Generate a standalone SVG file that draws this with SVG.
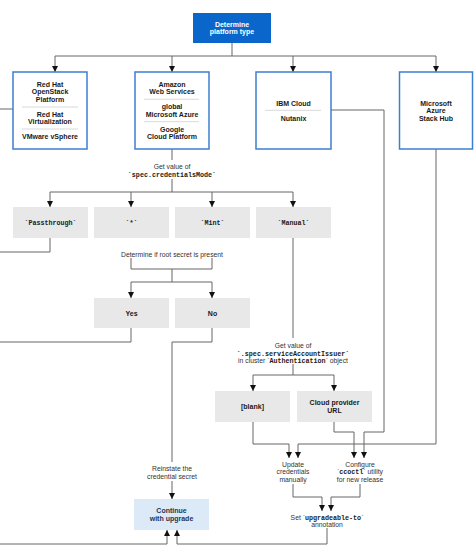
<svg xmlns="http://www.w3.org/2000/svg" width="474" height="556" viewBox="0 0 474 556">
<style>
.bg{fill:#ffffff}
.plat{fill:#ffffff;stroke:#3d7fd0;stroke-width:1.5}
.div{stroke:#cfcfcf;stroke-width:0.8}
.gray{fill:#e8e8e8}
.cont{fill:#dce9f7}
.top{fill:#0b66cc}
.b{font-family:"Liberation Sans","DejaVu Sans",sans-serif;font-weight:bold;font-size:7px;fill:#1a1a1a;text-anchor:middle}
.w{fill:#ffffff}
.n{fill:#1f3554}
.r{font-family:"Liberation Sans","DejaVu Sans",sans-serif;font-size:6.8px;fill:#333333;text-anchor:middle}
.m{font-family:"Liberation Mono","DejaVu Sans Mono",monospace;font-weight:bold;font-size:6.7px;fill:#1a1a1a}
.c{fill:none;stroke:#666666;stroke-width:1}
</style>
<defs>
<marker id="ah" viewBox="0 0 6 6" refX="6" refY="3" markerWidth="6" markerHeight="6" markerUnits="userSpaceOnUse" orient="auto">
<path d="M0,0 L6,3 L0,6 z" fill="#111111"/>
</marker>
</defs>
<rect class="bg" x="0" y="0" width="474" height="556"/>

<g id="connectors">
<path class="c" d="M232,43 V56 M55,56 H436"/>
<path class="c" d="M55,56 V72" marker-end="url(#ah)"/>
<path class="c" d="M172,56 V72" marker-end="url(#ah)"/>
<path class="c" d="M293,56 V72" marker-end="url(#ah)"/>
<path class="c" d="M436,56 V72" marker-end="url(#ah)"/>
<path class="c" d="M0,109 H13"/>
<path class="c" d="M172,149 V160 M172,179 V192 M50,192 H293"/>
<path class="c" d="M50,192 V207" marker-end="url(#ah)"/>
<path class="c" d="M131,192 V207" marker-end="url(#ah)"/>
<path class="c" d="M212,192 V207" marker-end="url(#ah)"/>
<path class="c" d="M293,192 V207" marker-end="url(#ah)"/>
<path class="c" d="M50,238 V252 H0"/>
<path class="c" d="M131,258 V269 H212 V258 M172,269 V282 M131,282 H212"/>
<path class="c" d="M131,282 V298" marker-end="url(#ah)"/>
<path class="c" d="M212,282 V298" marker-end="url(#ah)"/>
<path class="c" d="M131,328 V342 H0"/>
<path class="c" d="M212,328 V342 H172 V462"/>
<path class="c" d="M172,481 V499" marker-end="url(#ah)"/>
<path class="c" d="M293,238 V338 M293,364 V375 M253,375 H334"/>
<path class="c" d="M253,375 V391" marker-end="url(#ah)"/>
<path class="c" d="M334,375 V391" marker-end="url(#ah)"/>
<path class="c" d="M253,422 V444 H289 V458" marker-end="url(#ah)"/>
<path class="c" d="M334,422 V432 H354 V458" marker-end="url(#ah)"/>
<path class="c" d="M331,110 H384 V432 H364 V458" marker-end="url(#ah)"/>
<path class="c" d="M436,149 V444 H298 V458" marker-end="url(#ah)"/>
<path class="c" d="M293,484 V497 H322 V511" marker-end="url(#ah)"/>
<path class="c" d="M360,484 V497 H331 V511" marker-end="url(#ah)"/>
<path class="c" d="M327,528 V544 H177 V530" marker-end="url(#ah)"/>
<path class="c" d="M0,544 H167 V530" marker-end="url(#ah)"/>
<text class="r" x="172" y="168.5">Get value of</text>
<text class="m" x="172" y="176.5" text-anchor="middle">`spec.credentialsMode`</text>
<text class="r" x="172" y="256.5">Determine if root secret is present</text>
<text class="r" x="172" y="470.5">Reinstate the</text>
<text class="r" x="172" y="478.5">credential secret</text>
<text class="r" x="293" y="347.5">Get value of</text>
<text class="m" x="293" y="355.5" text-anchor="middle">`.spec.serviceAccountIssuer`</text>
<text class="r" x="293" y="362.5">in cluster `<tspan class="m">Authentication</tspan>` object</text>
<text class="r" x="293" y="466.5">Update</text>
<text class="r" x="293" y="474">credentials</text>
<text class="r" x="293" y="481.5">manually</text>
<text class="r" x="360" y="466.5">Configure</text>
<text class="r" x="360" y="474">`<tspan class="m">ccoctl</tspan>` utility</text>
<text class="r" x="360" y="481.5">for new release</text>
<text class="r" x="327" y="519.5">Set `<tspan class="m">upgradeable-to</tspan>`</text>
<text class="r" x="327" y="527">annotation</text>
</g>

<g id="determine">
<rect class="top" x="193" y="13" width="78" height="30"/>
<text class="b w" x="232" y="26.5">Determine</text>
<text class="b w" x="232" y="34">platform type</text>
</g>

<g id="platform-group-1">
<rect class="plat" x="13" y="72" width="74" height="77"/>
<line class="div" x1="22" y1="107" x2="78" y2="107"/>
<line class="div" x1="22" y1="129" x2="78" y2="129"/>
<text class="b" x="50" y="86.5">Red Hat</text>
<text class="b" x="50" y="94">OpenStack</text>
<text class="b" x="50" y="101.5">Platform</text>
<text class="b" x="50" y="116.5">Red Hat</text>
<text class="b" x="50" y="124">Virtualization</text>
<text class="b" x="50" y="138.5">VMware vSphere</text>
</g>

<g id="platform-group-2">
<rect class="plat" x="135" y="72" width="74" height="77"/>
<line class="div" x1="144" y1="99.3" x2="199" y2="99.3"/>
<line class="div" x1="144" y1="121.7" x2="199" y2="121.7"/>
<text class="b" x="172" y="86.5">Amazon</text>
<text class="b" x="172" y="94">Web Services</text>
<text class="b" x="172" y="109.3">global</text>
<text class="b" x="172" y="116.5">Microsoft Azure</text>
<text class="b" x="172" y="131.5">Google</text>
<text class="b" x="172" y="139">Cloud Platform</text>
</g>

<g id="platform-group-3">
<rect class="plat" x="256" y="72" width="75" height="77"/>
<line class="div" x1="265" y1="110.3" x2="321" y2="110.3"/>
<text class="b" x="293.5" y="105.5">IBM Cloud</text>
<text class="b" x="293.5" y="120.5">Nutanix</text>
</g>

<g id="platform-group-4">
<rect class="plat" x="399.5" y="72" width="73" height="77"/>
<text class="b" x="436" y="105.5">Microsoft</text>
<text class="b" x="436" y="113">Azure</text>
<text class="b" x="436" y="120.5">Stack Hub</text>
</g>

<g id="mode-passthrough">
<rect class="gray" x="13" y="207" width="75" height="31"/>
<text class="m" x="50.5" y="225" text-anchor="middle">`Passthrough`</text>
</g>
<g id="mode-star">
<rect class="gray" x="94" y="207" width="75" height="31"/>
<text class="m" x="131.5" y="225" text-anchor="middle">`*`</text>
</g>
<g id="mode-mint">
<rect class="gray" x="175" y="207" width="75" height="31"/>
<text class="m" x="212.5" y="225" text-anchor="middle">`Mint`</text>
</g>
<g id="mode-manual">
<rect class="gray" x="256" y="207" width="75" height="31"/>
<text class="m" x="293.5" y="225" text-anchor="middle">`Manual`</text>
</g>

<g id="yes">
<rect class="gray" x="94" y="298" width="75" height="30"/>
<text class="b" x="131.5" y="315.5">Yes</text>
</g>
<g id="no">
<rect class="gray" x="175" y="298" width="75" height="30"/>
<text class="b" x="212.5" y="315.5">No</text>
</g>

<g id="blank">
<rect class="gray" x="215" y="391" width="75" height="31"/>
<text class="b" x="252.5" y="408.5">[blank]</text>
</g>
<g id="cloud-url">
<rect class="gray" x="297" y="391" width="75" height="31"/>
<text class="b" x="334.5" y="405">Cloud provider</text>
<text class="b" x="334.5" y="412.5">URL</text>
</g>

<g id="continue">
<rect class="cont" x="134" y="499" width="75" height="31"/>
<text class="b n" x="171.5" y="513">Continue</text>
<text class="b n" x="171.5" y="520.5">with upgrade</text>
</g>
</svg>
